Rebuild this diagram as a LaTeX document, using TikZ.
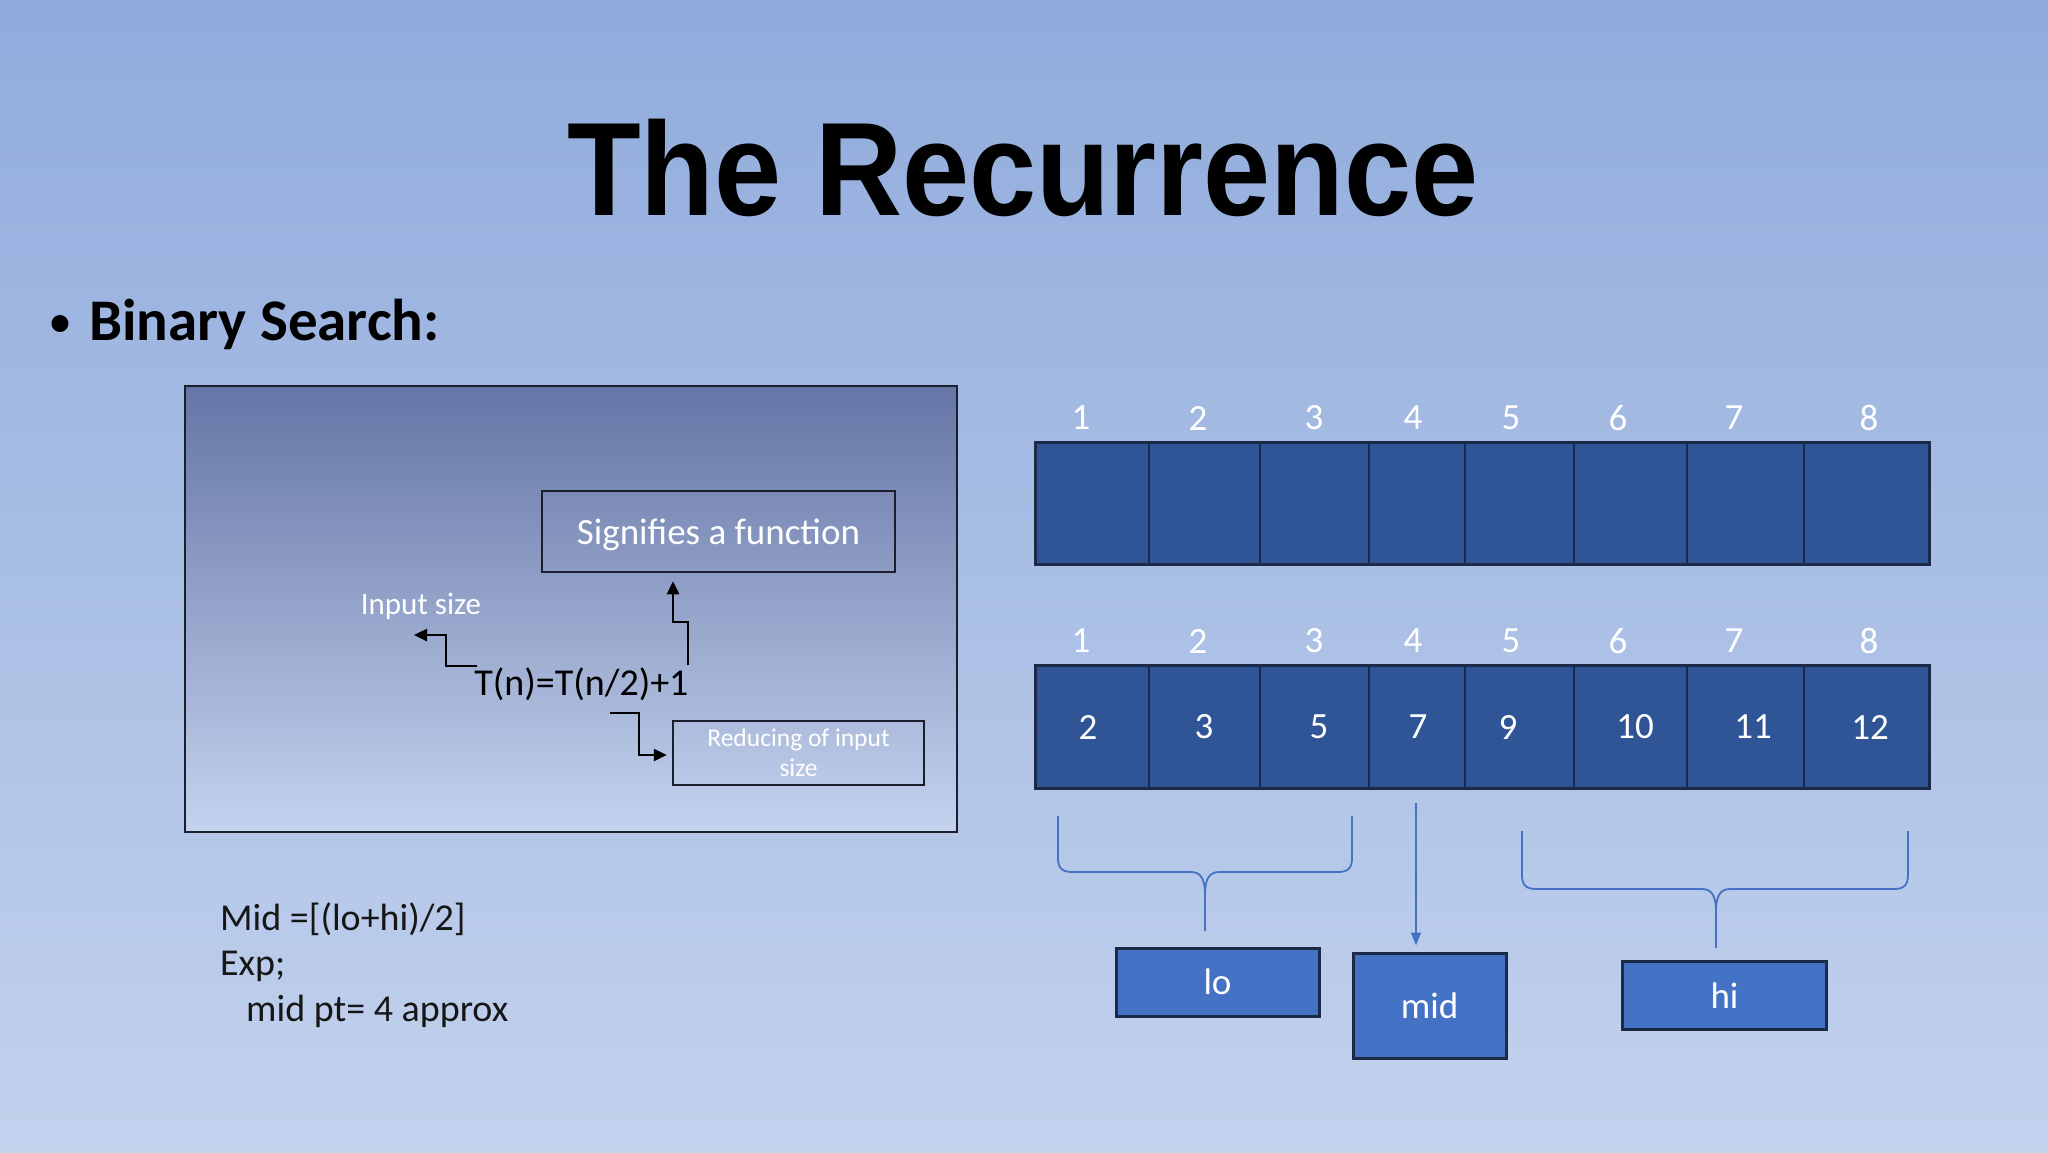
\documentclass[tikz,border=0pt]{standalone}
\usepackage{fontspec}
\setmainfont{Carlito}
\newfontfamily\titlefont{Liberation Sans Bold}
\usetikzlibrary{arrows.meta}
\definecolor{bgtop}{RGB}{144,171,220}
\definecolor{bgbot}{RGB}{195,210,237}
\definecolor{intop}{RGB}{101,117,166}
\definecolor{inbot}{RGB}{196,211,238}
\definecolor{cellblue}{RGB}{47,85,151}
\definecolor{boxblue}{RGB}{68,114,196}
\definecolor{darkline}{RGB}{26,30,45}
\definecolor{celline}{RGB}{28,42,72}
\definecolor{txt}{RGB}{22,22,22}
\newcommand\fs[2]{\fontsize{#1}{#2}\selectfont}
\begin{document}
\begin{tikzpicture}[x=1pt,y=-1pt,
  fbox/.style={draw=darkline, line width=2.5pt, inner sep=0pt, text=white},
  arr/.style={draw=black, line width=2.5pt, -{Triangle[length=13pt,width=12pt]}},
  cell/.style={draw=celline, line width=1.5pt, fill=cellblue, inner sep=0pt},
  idx/.style={text=white, inner sep=0pt, font=\fs{37}{44}},
  bluebox/.style={draw=celline, line width=3pt, fill=boxblue, inner sep=0pt, text=white, font=\fs{37}{44}},
  brace/.style={draw=boxblue, line width=1.8pt},
  plain/.style={inner sep=0pt, text=txt, font=\fs{38}{45}}
]
\useasboundingbox (0,0) rectangle (2048,1152);
\shade[top color=bgtop, bottom color=bgbot] (0,0) rectangle (2048,1152);

% title
\node[anchor=base, inner sep=0pt, font=\titlefont\fs{133}{150}] (title) at (1023,215) {\scalebox{0.907}[1]{The Recurrence}};

% bullet
\node[anchor=base, inner sep=0pt, font=\fs{48}{56}] (bul) at (60,337) {•};
\node[anchor=base west, inner sep=0pt, font=\bfseries\fs{59}{70}] (bs) at (89,340) {Binary Search:};

% inner panel
\shade[top color=intop, bottom color=inbot] (185,386) rectangle (957,832);
\draw[darkline, line width=2.5pt] (185,386) rectangle (957,832);

\node[fbox, minimum width=353pt, minimum height=81pt, text depth=0pt, font=\fs{37}{44}] (sig) at (718.5,531.5) {Signifies a function};
\node[anchor=base, inner sep=0pt, text=white, font=\fs{31}{37}] (inp) at (421,614) {Input size};
\node[anchor=base, inner sep=0pt, text=black, font=\fs{38}{45}] (eq) at (581.5,695) {T(n)=T(n/2)+1};
\node[fbox, minimum width=251pt, minimum height=64pt, align=center, font=\fs{25.5}{30}] (red) at (798.5,753) {Reducing of input\\size};

\coordinate (s1) at (477,666);
\coordinate (t1) at (414,635);
\draw[arr] (s1) -- (446,666) -- (446,635) -- (t1);
\coordinate (s2) at (688,665);
\coordinate (x2) at (673,622);
\draw[arr, shorten >=8pt] (s2) -- (688,622) -- (x2) -- (x2 |- sig.south);
\coordinate (s3) at (610,713);
\coordinate (x3) at (639,755);
\draw[arr, shorten >=5pt] (s3) -- (639,713) -- (x3) -- (x3 -| red.west);

% arrays
\foreach \i/\l/\r in {1/1036/1149, 2/1149/1260, 3/1260/1369, 4/1369/1465, 5/1465/1574, 6/1574/1687, 7/1687/1804, 8/1804/1929}{
  \pgfmathsetmacro\cx{(\l+\r)/2}
  \pgfmathsetmacro\w{\r-\l}
  \node[cell, minimum width=\w pt, minimum height=121pt] (c\i) at (\cx,503.5) {};
  \node[cell, minimum width=\w pt, minimum height=122pt] (d\i) at (\cx,727) {};
}
\draw[celline, line width=3pt] (c1.north west) rectangle (c8.south east);
\draw[celline, line width=3pt] (d1.north west) rectangle (d8.south east);

\foreach \i/\x/\vx/\v in {1/1081/1088/2, 2/1198/1204/3, 3/1314/1319/5, 4/1413/1418/7, 5/1511/1508/9, 6/1618/1635/10, 7/1734/1753/11, 8/1869/1870/12}{
  \node[idx] (i\i) at (\x,418) {\i};
  \node[idx] (j\i) at (\x,641) {\i};
  \node[idx] (v\i) at (\vx,727) {\v};
}

% braces
\draw[brace] (1058,816) -- (1058,858) .. controls (1058,868) and (1062,872) .. (1072,872) -- (1191,872) .. controls (1200,872) and (1205,878) .. (1205,894) -- (1205,931);
\draw[brace] (1352,816) -- (1352,858) .. controls (1352,868) and (1348,872) .. (1338,872) -- (1219,872) .. controls (1210,872) and (1205,878) .. (1205,894);
\draw[brace] (1522,831) -- (1522,875) .. controls (1522,885) and (1526,889) .. (1536,889) -- (1702,889) .. controls (1711,889) and (1716,895) .. (1716,911) -- (1716,948);
\draw[brace] (1908,831) -- (1908,875) .. controls (1908,885) and (1904,889) .. (1894,889) -- (1730,889) .. controls (1721,889) and (1716,895) .. (1716,911);

% lo mid hi
\node[bluebox, minimum width=203pt, minimum height=68pt] (lo) at (1217.5,982) {lo};
\node[bluebox, minimum width=153pt, minimum height=105pt] (mid) at (1429.5,1005.5) {mid};
\node[bluebox, minimum width=204pt, minimum height=68pt] (hi) at (1724.5,995.5) {hi};

\coordinate (m0) at (1416,803);
\draw[draw=boxblue, line width=1.8pt, -{Triangle[length=13pt,width=10pt]}, shorten >=6pt] (m0) -- (m0 |- mid.north);

% bottom text
\node[plain, anchor=base west] (l1) at (220,930) {Mid =[(lo+hi)/2]};
\node[plain, anchor=base west] (l2) at (220,975) {Exp;};
\node[plain, anchor=base west] (l3) at (246,1021) {mid pt= 4 approx};
\end{tikzpicture}
\end{document}
